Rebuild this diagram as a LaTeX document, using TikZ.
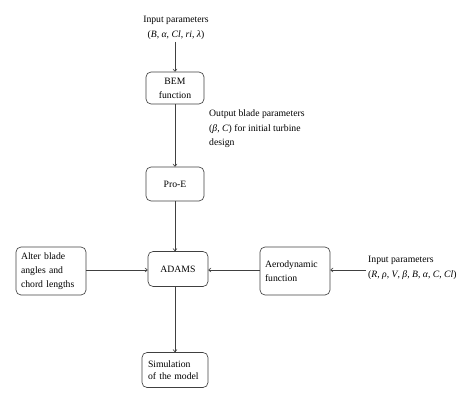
\documentclass[tikz,border=0pt]{standalone}
\usepackage{fontspec}
\setmainfont{Liberation Serif}
\usetikzlibrary{arrows.meta}

\newcommand{\pvar}[1]{\textit{#1}}

\tikzset{
  block/.style={draw=black!75, line width=0.65pt, rounded corners=5pt, align=center,
    minimum width=58pt, minimum height=32pt, font=\fontsize{9.7}{14}\selectfont},
  sideblock/.style={block, align=left, minimum width=70pt, minimum height=48pt, text width=60pt},
  note/.style={align=left, inner sep=0pt, font=\fontsize{9.7}{14.5}\selectfont},
  flow/.style={draw=black!75, line width=0.65pt, -{To[length=3pt,width=4.5pt]}}
}

\begin{document}
\begin{tikzpicture}[x=1pt,y=-1pt]
  \useasboundingbox (0,0) rectangle (474,404);

  % main column
  \node[note, align=center] (inTop) at (176,28) {Input parameters\\(\pvar{B}, \pvar{α}, \pvar{Cl}, \pvar{ri}, \pvar{λ})};
  \node[block] (bem) at (175,88) {BEM\\function};
  \node[block, minimum height=34pt] (proe) at (175,184) {Pro-E};
  \node[block, minimum width=60pt, minimum height=35pt] (adams) at (178,269) {ADAMS};
  \node[block, align=left, minimum width=66pt, minimum height=35pt, text width=54pt,
        font=\fontsize{9.7}{12.5}\selectfont] (sim) at (175,370) {Simulation\\of the model};

  % side boxes
  \node[sideblock] (alter) at (51,271) {Alter blade\\angles and\\chord lengths};
  \node[sideblock] (aero) at (295,271) {Aerodynamic\\function};

  % notes
  \node[note, anchor=west] (outNote) at (209,129) {Output blade parameters\\(\pvar{β}, \pvar{C}) for initial turbine\\design};
  \node[note, anchor=west] (inRight) at (368,268) {Input parameters\\(\pvar{R}, \pvar{ρ}, \pvar{V}, \pvar{β}, \pvar{B}, \pvar{α}, \pvar{C}, \pvar{Cl})};
  \coordinate (inTopEnd) at (175,42);
  \coordinate (inRightEnd) at (366,270);

  % arrows
  \draw[flow] (inTopEnd) -- (inTopEnd |- bem.north);
  \draw[flow] (bem.south) -- (proe.north);
  \draw[flow] (proe.south) -- (proe.south |- adams.north);
  \draw[flow] (proe.south |- adams.south) -- (sim.north);
  \draw[flow] (alter.east |- inRightEnd) -- (adams.west |- inRightEnd);
  \draw[flow] (aero.west |- inRightEnd) -- (adams.east |- inRightEnd);
  \draw[flow] (inRightEnd) -- (aero.east |- inRightEnd);
\end{tikzpicture}
\end{document}
